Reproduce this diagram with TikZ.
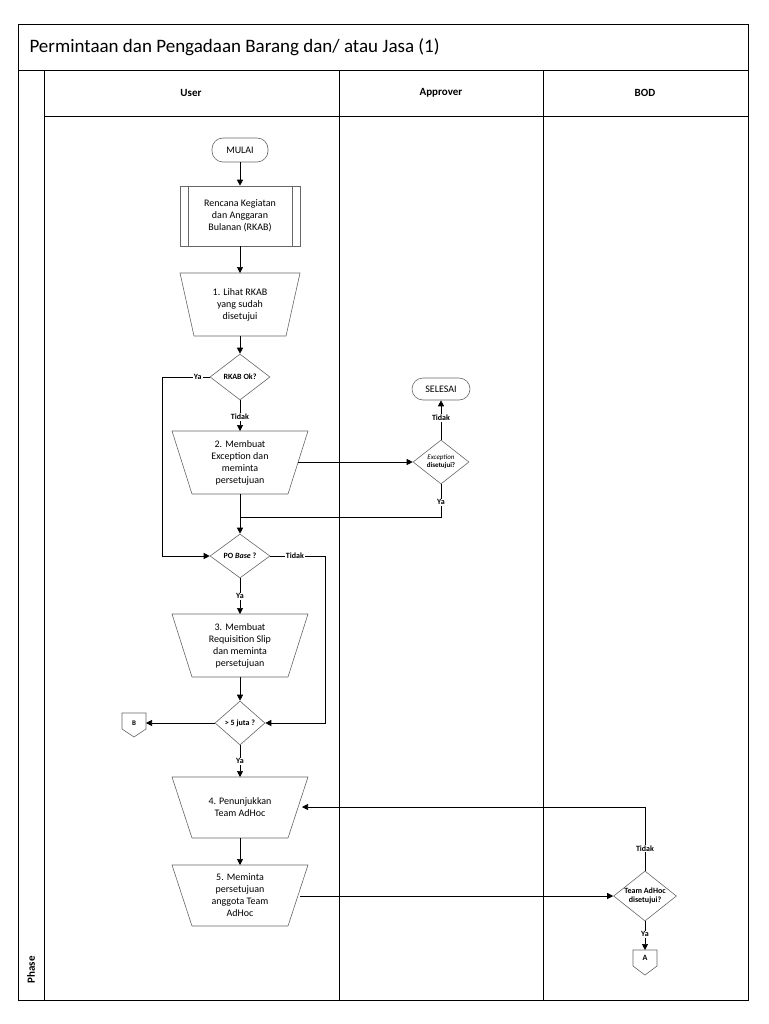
\documentclass[tikz,border=0pt]{standalone}
\usepackage{fontspec}
\setmainfont{Carlito}
\usetikzlibrary{shapes.geometric,arrows.meta}
\begin{document}
\begin{tikzpicture}[x=1pt,y=-1pt,
  shp/.style={draw=gray!80!black,fill=white,line width=0.6pt},
  txt/.style={font=\fontsize{10}{12}\selectfont,align=center,inner sep=0pt},
  lbl/.style={font=\bfseries\fontsize{8}{9}\selectfont,fill=white,inner sep=1pt},
  dia/.style={shp,diamond,aspect=1.35,inner sep=0pt,font=\bfseries\fontsize{8}{9}\selectfont,align=center},
  ar/.style={-{Triangle[length=6pt,width=6pt]},line width=0.7pt},
  ln/.style={line width=0.7pt}]
\useasboundingbox (0,0) rectangle (768,1024);
% frame
\draw[line width=0.8pt] (18,24) rectangle (748,1000);
\draw[line width=0.8pt] (18,70) -- (748,70);
\draw[line width=0.8pt] (44,116) -- (748,116);
\draw[line width=0.8pt] (44,70) -- (44,1000);
\draw[line width=0.8pt] (339,70) -- (339,1000);
\draw[line width=0.8pt] (543,70) -- (543,1000);
\node[anchor=west,font=\fontsize{19}{22}\selectfont] (title) at (26,47) {Permintaan dan Pengadaan Barang dan/ atau Jasa (1)};
\node[font=\bfseries\fontsize{11}{13}\selectfont] (hu) at (191,93) {User};
\node[font=\bfseries\fontsize{11}{13}\selectfont] (ha) at (441,93) {Approver};
\node[font=\bfseries\fontsize{11}{13}\selectfont] (hb) at (645,93) {BOD};
\node[font=\bfseries\fontsize{11}{13}\selectfont,rotate=90] (phase) at (31,970) {Phase};
% shapes
\node[shp,rounded corners=11pt,minimum width=56pt,minimum height=24pt,txt] (mulai) at (240,150) {MULAI};
\node[shp,minimum width=120pt,minimum height=60pt,txt] (rkab) at (240,216) {Rencana Kegiatan\\dan Anggaran\\Bulanan (RKAB)};
\draw[shp] (188,186) -- (188,246) (292,186) -- (292,246);
% trapezoids
\draw[shp] (180,273) -- (300,273) -- (286,336) -- (194,336) -- cycle;
\node[txt,minimum width=120pt,minimum height=63pt] (s1) at (240,304.5) {1. Lihat RKAB\\yang sudah\\disetujui};
\draw[shp] (172,431) -- (308,431) -- (288,494) -- (192,494) -- cycle;
\node[txt,minimum width=112pt,minimum height=63pt] (s2) at (240,462.5) {2. Membuat\\Exception dan\\meminta\\persetujuan};
\draw[shp] (172,614) -- (308,614) -- (288,677) -- (192,677) -- cycle;
\node[txt,minimum width=112pt,minimum height=63pt] (s3) at (240,645.5) {3. Membuat\\Requisition Slip\\dan meminta\\persetujuan};
\draw[shp] (172,777) -- (308,777) -- (288,838) -- (192,838) -- cycle;
\node[txt,minimum width=124pt,minimum height=61pt] (s4) at (240,807.5) {4. Penunjukkan\\Team AdHoc};
\draw[shp] (172,865) -- (308,865) -- (288,926) -- (192,926) -- cycle;
\node[txt,minimum width=112pt,minimum height=61pt] (s5) at (240,895.5) {5. Meminta\\persetujuan\\anggota Team\\AdHoc};
% diamonds
\node[dia,minimum width=60pt,minimum height=46pt] (d1) at (240,377) {RKAB Ok?};
\node[dia,minimum width=56pt,minimum height=44pt,font=\fontsize{7}{8}\selectfont] (d2) at (441,462) {\textit{Exception}\\\textbf{disetujui?}};
\node[dia,minimum width=60pt,minimum height=44pt] (d3) at (240,556) {PO \textit{Base} ?};
\node[dia,minimum width=50pt,minimum height=44pt] (d4) at (240,723) {> 5 juta ?};
\node[dia,minimum width=60pt,minimum height=50pt] (d5) at (645,896) {Team AdHoc\\disetujui?};
\node[shp,rounded corners=11pt,minimum width=58pt,minimum height=22pt,txt] (sel) at (441,389) {SELESAI};
% off-page connectors
\draw[shp] (122,713) -- (146,713) -- (146,729) -- (134,737) -- (122,729) -- cycle;
\node[font=\bfseries\fontsize{7}{8}\selectfont,minimum width=24pt,minimum height=24pt,inner sep=0pt] (B) at (134,723) {B};
\draw[shp] (633,950) -- (657,950) -- (657,966) -- (645,975) -- (633,966) -- cycle;
\node[font=\bfseries\fontsize{8}{9}\selectfont,minimum width=24pt,minimum height=20pt,inner sep=0pt] (A) at (645,958) {A};
\coordinate (aT) at (645,950);
% connectors
\draw[ar] (mulai) -- (rkab);
\draw[ar] (rkab) -- (240,273);
\draw[ar] (240,336) -- (d1);
\draw[ar] (d1) -- node[lbl,pos=0.55]{Tidak} (240,431);
\draw[ar] (d1.west) -- node[lbl,pos=0.25]{Ya} (162,377) -- (162,556) -- (d3.west);
\draw[ar] (298,462) -- (d2.west);
\draw[ar] (d2.north) -- node[lbl,pos=0.55]{Tidak} (sel.south);
\draw[ln] (d2.south) -- node[lbl,pos=0.55]{Ya} (441,517) -- (240,517);
\draw[ar] (240,494) -- (d3.north);
\draw[ar] (d3.south) -- node[lbl,pos=0.5]{Ya} (240,614);
\draw[ar] (d3.east) -- node[lbl,pos=0.45]{Tidak} (325,556) -- (325,723) -- (d4.east);
\draw[ar] (240,677) -- (d4.north);
\draw[ar] (d4.west) -- (146,723);
\draw[ar] (d4.south) -- node[lbl,pos=0.5]{Ya} (240,777);
\draw[ar] (240,838) -- (240,865);
\draw[ar] (300,896) -- (d5.west);
\draw[ar] (d5.north) -- node[lbl,pos=0.35]{Tidak} (645,807) -- (302,807);
\draw[ar] (d5.south) -- node[lbl,pos=0.45]{Ya} (aT);
\end{tikzpicture}
\end{document}
